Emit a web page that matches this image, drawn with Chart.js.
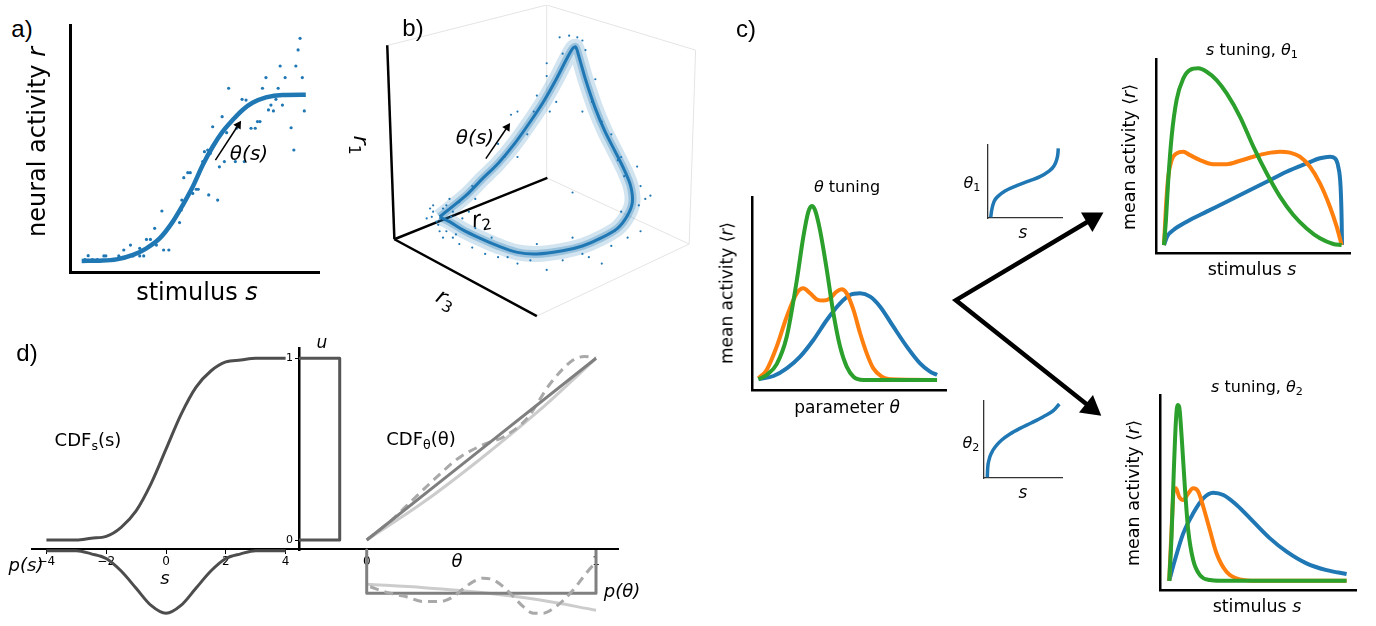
<!DOCTYPE html>
<html>
<head>
<meta charset="utf-8">
<script src="https://cdn.jsdelivr.net/npm/chart.js@4.4.1/dist/chart.umd.min.js"></script>
<style>
body { margin: 0; background: #fff; }
#fig { position: relative; width: 1376px; height: 626px; overflow: hidden; background: #fff; }
#fig canvas { position: absolute; }
.lbl { position: absolute; white-space: nowrap; line-height: 1; color: #000; font-family: 'DejaVu Sans'; }
.lbl sub { font-size: 70%; vertical-align: -0.3em; line-height: 0; font-style: normal; }
</style>
</head>
<body>
<div id="fig"></div>
<script>
const BLUE = '#1f77b4', ORANGE = '#ff7f0e', GREEN = '#2ca02c';

// a) one neuron: stimulus s -> activity r  (pairs are [s, r])
const aCurve = [[0.47,0.45],[1.2,0.46],[1.87,0.51],[2.53,0.69],[3.07,0.96],[3.6,1.36],[4.13,2.04],[4.53,2.71],[4.93,3.45],[5.33,4.33],[5.73,5.07],[6.13,5.68],[6.53,6.15],[6.93,6.56],[7.33,6.85],[7.87,7.07],[8.53,7.17],[9.47,7.18]];
const aDots = [[0.6,0.5],[0.73,0.66],[0.9,0.5],[1.1,0.5],[1.36,0.65],[1.44,0.65],[1.7,0.5],[1.96,0.65],[2.0,0.55],[2.16,0.89],[2.43,1.09],[2.53,0.65],[2.8,0.65],[2.96,0.65],[2.8,0.96],[3.07,1.32],[3.23,1.32],[3.4,1.77],[3.47,1.09],[3.69,2.47],[3.76,0.89],[3.97,0.89],[4.09,2.0],[4.4,2.0],[4.47,2.51],[4.49,2.91],[4.57,3.82],[4.73,4.02],[4.83,4.02],[4.93,3.18],[5.07,3.35],[5.15,3.35],[5.33,4.47],[5.4,4.87],[5.53,4.94],[5.57,3.12],[5.63,4.8],[5.73,5.88],[5.93,2.91],[6.0,4.26],[6.11,6.29],[6.2,4.47],[6.29,5.64],[6.37,7.44],[6.64,4.47],[6.69,5.82],[6.91,6.99],[7.07,6.96],[7.0,4.47],[7.27,5.82],[7.44,5.82],[7.53,6.09],[7.63,6.09],[7.73,7.44],[7.87,7.87],[7.97,6.56],[8.07,6.76],[8.17,6.52],[8.27,6.99],[8.36,7.44],[8.44,8.34],[8.53,6.76],[8.64,7.87],[8.88,5.84],[8.99,4.94],[9.07,8.34],[9.16,8.99],[9.24,9.46],[9.33,7.87],[9.41,6.52]];
const aArrow = [[5.84,4.53],[6.76,5.95]];

// b) population response, projected view of (r1, r2, r3)
const bCurve = [[1.90,3.38],[2.67,4.04],[3.14,4.55],[3.62,5.05],[4.10,5.66],[4.57,6.36],[4.95,6.97],[5.33,7.68],[5.62,8.28],[5.81,8.64],[5.90,8.69],[6.00,8.38],[6.19,7.68],[6.48,6.77],[6.76,6.06],[7.05,5.45],[7.33,4.85],[7.52,4.34],[7.57,3.84],[7.43,3.43],[7.14,3.03],[6.67,2.73],[6.10,2.47],[5.52,2.32],[4.76,2.22],[4.19,2.27],[3.62,2.47],[3.05,2.73],[2.57,2.98],[2.19,3.23],[1.90,3.38]];
const bDots = [[1.71,3.54],[1.81,3.23],[2.0,3.64],[2.10,2.93],[2.29,3.54],[2.38,2.83],[1.67,3.38],[2.48,3.84],[2.86,4.34],[3.33,4.75],[2.95,3.94],[3.81,5.25],[4.0,6.57],[4.19,6.67],[4.48,5.96],[4.76,7.17],[5.05,7.78],[5.14,6.67],[5.43,8.99],[5.52,8.48],[6.10,8.89],[6.19,8.59],[6.48,7.68],[6.38,6.97],[5.81,4.14],[6.10,6.67],[6.95,5.96],[7.14,5.15],[7.71,4.95],[7.81,4.34],[7.95,3.94],[8.10,4.04],[7.81,2.93],[7.24,3.54],[7.43,2.73],[6.95,2.47],[6.67,1.92],[6.29,2.12],[5.81,2.73],[5.52,2.02],[5.05,1.72],[4.76,2.53],[4.19,1.92],[3.90,2.12],[3.43,2.73],[3.24,2.22],[2.86,2.42],[2.67,2.93],[3.24,3.03],[2.10,3.74],[1.90,2.93],[1.71,3.74],[2.19,3.94],[2.57,3.33],[2.76,3.54],[1.52,3.33],[2.0,2.73],[3.62,5.66],[4.19,5.25],[4.67,6.67],
  [6.67,6.36],[6.29,7.37],[7.24,5.25],[7.33,4.65],[7.76,3.74],[7.05,2.93],[6.10,2.22],[4.57,2.02],[3.62,2.12],[2.48,2.53],[2.24,3.38],[1.86,3.13],[1.62,3.64],[2.29,2.73],[2.95,3.03],[5.05,8.18],[5.71,9.04],[5.95,8.99],[5.33,6.97]];
const bAxisR1 = [[0.36,8.74],[0.57,2.68]];
const bAxisR2 = [[0.57,2.68],[5.07,4.6]];
const bAxisR3 = [[0.57,2.68],[4.76,0.28]];
const bPaneEdges = [[[0.38,8.74],[5.05,10]],[[5.05,10],[5.05,4.6]],[[5.05,10],[9.43,8.59]],[[9.43,8.59],[9.24,2.53]],[[9.24,2.53],[4.76,0.28]],[[5.05,4.6],[9.24,2.53]]];
const bArrow = [[3.26,5.2],[3.89,6.18]];

// c) three neurons tuned to theta, then re-expressed in s
const thetaGreen = [[0.002,0.004],[0.048,0.029],[0.104,0.092],[0.16,0.25],[0.216,0.574],[0.253,0.829],[0.281,0.973],[0.3,1.006],[0.318,0.983],[0.346,0.867],[0.384,0.636],[0.421,0.385],[0.458,0.193],[0.495,0.077],[0.533,0.019],[0.588,0],[1,0]];
const thetaOrange = [[0.002,0.01],[0.048,0.058],[0.104,0.193],[0.16,0.366],[0.216,0.501],[0.253,0.53],[0.291,0.501],[0.328,0.466],[0.365,0.459],[0.402,0.472],[0.439,0.511],[0.467,0.524],[0.495,0.501],[0.533,0.405],[0.57,0.27],[0.607,0.154],[0.644,0.067],[0.691,0.019],[0.737,0.004],[1,0]];
const thetaBlue = [[0.002,0.004],[0.086,0.023],[0.16,0.067],[0.235,0.135],[0.309,0.231],[0.384,0.347],[0.458,0.443],[0.514,0.491],[0.57,0.501],[0.626,0.482],[0.682,0.424],[0.756,0.308],[0.831,0.193],[0.905,0.096],[0.961,0.048],[1,0.029]];
const theta1Map = [[0,0],[0.015,0.106],[0.049,0.227],[0.113,0.309],[0.212,0.382],[0.384,0.459],[0.581,0.531],[0.729,0.589],[0.852,0.662],[0.936,0.744],[0.975,0.831],[0.995,0.928],[1,1]];
const theta2Map = [[0,0],[0.005,0.123],[0.023,0.236],[0.06,0.336],[0.12,0.427],[0.2,0.509],[0.315,0.591],[0.454,0.668],[0.616,0.745],[0.778,0.827],[0.917,0.909],[1,1]];
const s1Green = [[0,0],[0.011,0.142],[0.024,0.368],[0.043,0.613],[0.071,0.821],[0.109,0.943],[0.146,0.991],[0.193,1],[0.24,0.981],[0.296,0.934],[0.353,0.858],[0.428,0.726],[0.503,0.557],[0.578,0.406],[0.653,0.274],[0.728,0.17],[0.803,0.094],[0.878,0.038],[0.953,0.006],[1,0]];
const s1Orange = [[0,0],[0.011,0.217],[0.024,0.387],[0.043,0.481],[0.071,0.519],[0.109,0.528],[0.146,0.509],[0.203,0.481],[0.278,0.458],[0.353,0.458],[0.428,0.477],[0.503,0.5],[0.578,0.519],[0.653,0.528],[0.709,0.523],[0.765,0.5],[0.822,0.443],[0.878,0.349],[0.934,0.217],[0.972,0.104],[1,0]];
const s1Blue = [[0,0],[0.019,0.051],[0.053,0.085],[0.128,0.132],[0.24,0.189],[0.353,0.245],[0.465,0.302],[0.578,0.358],[0.69,0.415],[0.803,0.462],[0.878,0.491],[0.934,0.5],[0.962,0.491],[0.981,0.443],[0.994,0.33],[1,0.142],[1.002,0]];
const s2Green = [[0,0],[0.013,0.248],[0.026,0.624],[0.038,0.906],[0.047,0.991],[0.056,0.981],[0.07,0.812],[0.088,0.53],[0.107,0.286],[0.135,0.117],[0.173,0.032],[0.229,0.004],[0.286,0],[1,0]];
const s2Orange = [[0,0],[0.013,0.286],[0.026,0.511],[0.038,0.521],[0.056,0.474],[0.079,0.455],[0.107,0.492],[0.135,0.521],[0.164,0.502],[0.192,0.417],[0.229,0.286],[0.267,0.154],[0.323,0.051],[0.398,0.008],[0.492,0],[1,0]];
const s2Blue = [[0,0],[0.032,0.117],[0.079,0.267],[0.135,0.38],[0.192,0.464],[0.248,0.496],[0.305,0.483],[0.38,0.427],[0.474,0.333],[0.568,0.239],[0.662,0.164],[0.774,0.098],[0.887,0.06],[1,0.038]];
const cArrowPath = [[8.58,8.89],[0.74,5.42],[8.51,0.82]];

// d) CDF transforms
const sGrid = [-4,-3.5,-3,-2.5,-2,-1.5,-1,-0.5,0,0.5,1,1.5,2,2.5,3,3.5,4];
const cdfS = [0,0,0,0.01,0.02,0.07,0.16,0.31,0.5,0.69,0.84,0.93,0.98,0.99,1,1,1];
const pS = [0,0,0,0.02,0.05,0.13,0.24,0.35,0.4,0.35,0.24,0.13,0.05,0.02,0,0,0];
const sTicks = [-4,-2,0,2,4];
const unitTicks = [0,1];
const uBox = [[0,1],[1,1],[1,0],[0,0]];            // [p(u), u]
const cdfThetaUniform = [[0,0],[1,1]];
const cdfThetaLight = [[0,0],[0.25,0.21],[0.5,0.45],[0.75,0.71],[1,1]];
const cdfThetaDashed = [[0,0],[0.1,0.1],[0.2,0.22],[0.3,0.34],[0.4,0.45],[0.5,0.52],[0.6,0.57],[0.7,0.67],[0.8,0.86],[0.9,0.99],[0.95,1.01],[1,1]];
const pThetaBox = [[0,0],[0,1],[1,1],[1,0]];
const pThetaLight = [[0,0.79],[0.25,0.87],[0.5,0.98],[0.75,1.15],[1,1.39]];
const pThetaDashed = [[0.015,0.85],[0.102,1.0],[0.174,1.08],[0.247,1.19],[0.32,1.19],[0.378,1.08],[0.422,0.89],[0.465,0.73],[0.509,0.65],[0.552,0.69],[0.596,0.85],[0.64,1.08],[0.683,1.31],[0.727,1.46],[0.77,1.46],[0.814,1.35],[0.858,1.16],[0.901,0.92],[0.945,0.62],[0.981,0.39],[1,0.31]];

Chart.defaults.animation = false;
Chart.defaults.events = [];
Chart.defaults.font.family = "'DejaVu Sans'";
Chart.defaults.plugins.legend.display = false;
Chart.defaults.plugins.tooltip.enabled = false;
Chart.defaults.elements.line.borderJoinStyle = 'round';

const fig = document.getElementById('fig');
const xy = pairs => pairs.map(([x, y]) => ({ x, y }));

function mk(left, top, width, height, pad, datasets, scales) {
  const c = document.createElement('canvas');
  c.width = width; c.height = height;
  c.style.left = left + 'px'; c.style.top = top + 'px';
  fig.appendChild(c);
  return new Chart(c, { type: 'line', data: { datasets }, options: { responsive: false, devicePixelRatio: 1, layout: { padding: pad }, scales } });
}

function lin(min, max, border, extra) {
  return Object.assign({
    type: 'linear', min, max,
    grid: { display: false, drawTicks: false },
    ticks: { display: false },
    border: border ? { display: true, color: border.color || '#000', width: border.width } : { display: false },
    afterFit: s => { if (s.isHorizontal()) s.height = 0; else s.width = 0; }
  }, extra || {});
}

function line(pairs, color, width, extra) {
  return Object.assign({ data: xy(pairs), borderColor: color, borderWidth: width, pointRadius: 0, fill: false, cubicInterpolationMode: 'monotone' }, extra || {});
}

function arrow(pairs, color, width, head, rot) {
  return { data: xy(pairs), borderColor: color, borderWidth: width, fill: false, tension: 0,
    pointStyle: 'triangle', pointRadius: head, pointRotation: rot,
    pointBackgroundColor: color, pointBorderWidth: 0 };
}

function txt(html, x, y, size, rot, family) {
  const d = document.createElement('div');
  d.className = 'lbl';
  d.innerHTML = html;
  d.style.left = x + 'px'; d.style.top = y + 'px'; d.style.fontSize = size + 'px';
  d.style.transform = `translate(-50%,-50%) rotate(${rot || 0}deg)`;
  if (family) d.style.fontFamily = family;
  fig.appendChild(d);
}

const tickFmt = v => String(v).replace('-', '\u2212');
const fixTicks = vals => s => { s.ticks = vals.map(value => ({ value })); };
const tickMarks = { display: true, drawOnChartArea: false, drawTicks: true, tickLength: 4, color: '#000', lineWidth: 1 };
const loop = { cubicInterpolationMode: 'default', tension: 0.3 };

// ---- a)
mk(60, 15, 270, 267, { left: 10, top: 10, right: 11, bottom: 10 }, [
  arrow(aArrow, '#000', 1.5, [0, 5], [0, 33]),
  line(aCurve, BLUE, 4.5),
  { data: xy(aDots), showLine: false, pointRadius: 1.6, pointBackgroundColor: BLUE, pointBorderWidth: 0 }
], { x: lin(0, 10, { width: 3 }), y: lin(0, 10, { width: 3 }) });

// ---- b)
mk(370, 0, 350, 330, 0, [
  arrow(bArrow, '#000', 1.5, [0, 5], [0, 34]),
  line(bCurve, BLUE, 3, loop),
  { data: xy(bDots), showLine: false, pointRadius: 1.1, pointBackgroundColor: BLUE, pointBorderWidth: 0 },
  line(bCurve, 'rgba(31,119,180,0.3)', 8, loop),
  line(bCurve, 'rgba(31,119,180,0.2)', 16, loop),
  line(bAxisR1, '#000', 2.5, { tension: 0 }),
  line(bAxisR2, '#000', 2.5, { tension: 0 }),
  line(bAxisR3, '#000', 2.5, { tension: 0 }),
  ...bPaneEdges.map(seg => line(seg, '#e4e4e4', 1, { tension: 0 }))
], { x: lin(0, 10), y: lin(0, 10) });

// ---- c) theta tuning
mk(740, 185, 220, 215, { left: 12, top: 12, right: 14, bottom: 10 }, [
  line(thetaGreen, GREEN, 4), line(thetaOrange, ORANGE, 4), line(thetaBlue, BLUE, 4)
], { x: lin(-0.034, 1.05, { width: 2.5 }), y: lin(-0.058, 1.058, { width: 2.5 }) });

// insets theta(s)
mk(978, 135, 95, 93, { left: 10, top: 10, right: 11, bottom: 10 }, [line(theta1Map, BLUE, 3.5)],
  { x: lin(-0.04, 1.055, { width: 1.3, color: '#333' }), y: lin(-0.01, 1.048, { width: 1.3, color: '#333' }) });
mk(974, 391, 98, 97, { left: 10, top: 10, right: 10, bottom: 10 }, [line(theta2Map, BLUE, 3.5)],
  { x: lin(-0.046, 1.0375, { width: 1.3, color: '#333' }), y: lin(-0.0095, 1.041, { width: 1.3, color: '#333' }) });

// s tuning
mk(1144, 47, 220, 218, { left: 12, top: 12, right: 14, bottom: 12 }, [
  line(s1Green, GREEN, 4), line(s1Orange, ORANGE, 4), line(s1Blue, BLUE, 4)
], { x: lin(-0.045, 1.047, { width: 2.5 }), y: lin(-0.045, 1.053, { width: 2.5 }) });
mk(1148, 383, 220, 219, { left: 12, top: 12, right: 12, bottom: 12 }, [
  line(s2Green, GREEN, 4), line(s2Orange, ORANGE, 4), line(s2Blue, BLUE, 4)
], { x: lin(-0.052, 1.053, { width: 2.5 }), y: lin(-0.052, 1.047, { width: 2.5 }) });

// the two big arrows
mk(930, 180, 200, 260, 10, [
  Object.assign(arrow(cArrowPath, '#000', 4.5, [13, 0, 13], [59.5, 0, 128.3]), { borderJoinStyle: 'miter' })
], { x: lin(0, 10), y: lin(0, 10) });

// ---- d)
mk(0, 330, 640, 296, { left: 32, top: 10, right: 22, bottom: 4 }, [
  line(sGrid.map((s, i) => [s, cdfS[i]]), '#4d4d4d', 3, { xAxisID: 'xs', yAxisID: 'y' }),
  line(sGrid.map((s, i) => [s, pS[i]]), '#4d4d4d', 3, { xAxisID: 'xs', yAxisID: 'yp' }),
  line(cdfThetaUniform, '#7f7f7f', 3, { xAxisID: 'xt', yAxisID: 'y', tension: 0 }),
  line(cdfThetaDashed, '#a9a9a9', 3, { xAxisID: 'xt', yAxisID: 'y', borderDash: [9, 6] }),
  line(cdfThetaLight, '#cccccc', 3, { xAxisID: 'xt', yAxisID: 'y' }),
  line(pThetaDashed, '#a9a9a9', 3, { xAxisID: 'xt', yAxisID: 'ypt', borderDash: [9, 6] }),
  line(pThetaBox, '#808080', 3, { xAxisID: 'xt', yAxisID: 'ypt', cubicInterpolationMode: 'default', tension: 0 }),
  line(pThetaLight, '#cccccc', 3, { xAxisID: 'xt', yAxisID: 'ypt' })
], {
  xs: lin(-4.482, 15.117, { width: 2 }, { position: { y: -0.05 }, afterBuildTicks: fixTicks(sTicks), grid: tickMarks,
    ticks: { display: true, color: '#000', font: { size: 12 }, padding: 2, autoSkip: false, maxRotation: 0, callback: tickFmt } }),
  xt: lin(-1.4597, 1.0959, null, { position: { y: -0.05 }, afterBuildTicks: fixTicks(unitTicks), grid: tickMarks,
    ticks: { display: true, color: '#000', font: { size: 12 }, padding: 2, autoSkip: false, maxRotation: 0 } }),
  y: lin(-0.4513, 1.1007),
  yp: lin(-1.3463, 0.4556, null, { reverse: true }),
  ypt: lin(-4.85, 1.663, null, { reverse: true })
});

// u axis with uniform density
mk(280, 338, 75, 222, { left: 0, top: 10, right: 10, bottom: 10 }, [
  line(uBox, '#555555', 3, { cubicInterpolationMode: 'default', tension: 0 })
], {
  x: lin(0, 1.13),
  y: lin(-0.055, 1.057, { width: 2.5 }, { afterBuildTicks: fixTicks(unitTicks), grid: tickMarks, afterFit: s => { s.width = 19; },
    ticks: { display: true, color: '#000', font: { size: 11 }, padding: 2, autoSkip: false } })
});

// ---- text
const LS = "'Liberation Sans'";
txt('a)', 22, 29, 24, 0, LS);
txt('b)', 413, 28, 24, 0, LS);
txt('c)', 746, 29, 24, 0, LS);
txt('d)', 27, 353, 24, 0, LS);
txt('neural activity <i>r</i>', 37, 142, 24, -90);
txt('stimulus <i>s</i>', 197, 292, 24);
txt('<i>θ(s)</i>', 249, 153, 20);
txt('<i>θ(s)</i>', 475, 137, 20);
txt('<i>r</i><sub>1</sub>', 361, 145, 22, 90);
txt('<i>r</i><sub>2</sub>', 481, 219, 22, -10);
txt('<i>r</i><sub>3</sub>', 446, 299, 22, 28);
txt('<i>θ</i> tuning', 847, 187, 16);
txt('mean activity ⟨<i>r</i>⟩', 727, 293, 17, -90);
txt('parameter <i>θ</i>', 847, 407, 17);
txt('<i>θ</i><sub>1</sub>', 972, 183, 16);
txt('<i>s</i>', 1023, 232, 17);
txt('<i>θ</i><sub>2</sub>', 971, 443, 16);
txt('<i>s</i>', 1023, 492, 17);
txt('<i>s</i> tuning, <i>θ</i><sub>1</sub>', 1252, 50, 16);
txt('mean activity ⟨<i>r</i>⟩', 1130, 157, 17.5, -90);
txt('stimulus <i>s</i>', 1252, 270, 17.5);
txt('<i>s</i> tuning, <i>θ</i><sub>2</sub>', 1257, 387, 16);
txt('mean activity ⟨<i>r</i>⟩', 1134, 493, 17.5, -90);
txt('stimulus <i>s</i>', 1257, 607, 17.5);
txt('CDF<sub>s</sub>(s)', 88, 440, 18);
txt('CDF<sub>θ</sub>(θ)', 421, 439, 18);
txt('<i>p(s)</i>', 26, 565, 18);
txt('<i>s</i>', 165, 578, 18);
txt('<i>θ</i>', 457, 561, 18);
txt('<i>p(θ)</i>', 622, 591, 18);
txt('<i>u</i>', 322, 342, 17);
</script>
</body>
</html>
